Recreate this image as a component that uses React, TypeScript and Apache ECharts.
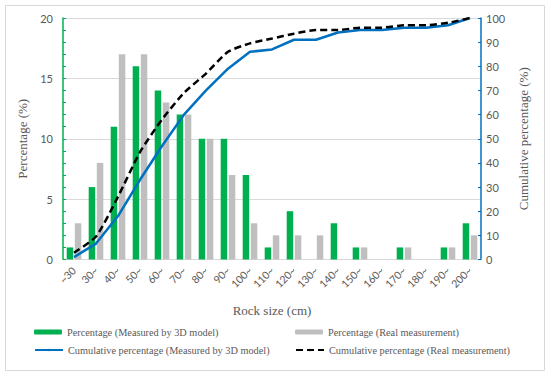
import React, { useEffect, useRef } from "react";
import * as echarts from "echarts";

const categories = ["~30", "30~", "40~", "50~", "60~", "70~", "80~", "90~", "100~", "110~", "120~", "130~", "140~", "150~", "160~", "170~", "180~", "190~", "200~"];
const pct3D = [1, 6, 11, 16, 14, 12, 10, 10, 7, 1, 4, 0, 3, 1, 0, 1, 0, 1, 3];
const pctReal = [3, 8, 17, 17, 13, 12, 10, 7, 3, 2, 2, 2, 0, 1, 0, 1, 0, 1, 2];
const cum3D = [1, 6.6, 18, 33, 47, 60, 70, 79, 86, 87, 91, 91, 94, 95, 95, 96, 96, 97, 100];
const cumReal = [2.8, 9.5, 26, 44.5, 58, 69, 77, 86, 89.5, 91.5, 93.5, 95, 95, 96, 96, 97, 97, 98, 100];
const leftTicks = [0, 5, 10, 15, 20];
const rightTicks = [0, 10, 20, 30, 40, 50, 60, 70, 80, 90, 100];

const NAMES = [
  "Percentage (Measured by 3D model)",
  "Percentage (Real measurement)",
  "Cumulative percentage (Measured by 3D model)",
  "Cumulative percentage (Real measurement)",
];

const SERIF = "'Liberation Serif', 'DejaVu Serif', serif";
const SANS = "Lato, 'Open Sans', sans-serif";
const TXT = "#595959";

export default function App() {
  const ref = useRef<HTMLDivElement>(null);
  useEffect(() => {
    if (!ref.current) return;
    const chart = echarts.init(ref.current, undefined, { renderer: "svg" });
    const legendText = { fontFamily: SERIF, fontSize: 10.3, color: TXT };
    const mkLegend = (name: string, left: number, top: number, isBar: boolean) => ({
      show: true,
      data: [name],
      left,
      top,
      orient: "horizontal",
      itemWidth: 28,
      itemHeight: isBar ? 5 : 3,
      padding: 0,
      selectedMode: false,
      textStyle: legendText,
    });
    chart.setOption({
      animation: false,
      backgroundColor: "#fff",
      graphic: [
        {
          type: "rect",
          shape: { x: 5.5, y: 5.5, width: 539, height: 365 },
          style: { fill: "none", stroke: "#D9D9D9", lineWidth: 1 },
        },
      ],
      legend: [
        mkLegend(NAMES[0], 34, 327, true),
        mkLegend(NAMES[1], 295, 327, true),
        mkLegend(NAMES[2], 34, 345, false),
        mkLegend(NAMES[3], 295, 345, false),
      ],
      grid: { left: 63, right: 69, top: 18, bottom: 116.5, containLabel: false },
      xAxis: {
        type: "category",
        data: categories,
        axisLine: { lineStyle: { color: "#D9D9D9" } },
        axisTick: { show: false },
        axisLabel: { interval: 0, rotate: 45, fontFamily: SANS, fontSize: 10.5, color: TXT, margin: 9 },
        name: "Rock size (cm)",
        nameLocation: "middle",
        nameGap: 44,
        nameTextStyle: { fontFamily: SERIF, fontSize: 13, color: TXT },
      },
      yAxis: [
        {
          type: "value",
          min: leftTicks[0],
          max: leftTicks[leftTicks.length - 1],
          interval: 5,
          axisLine: { show: true, lineStyle: { color: "#00B050", width: 1.5 } },
          axisTick: { show: true, inside: true, length: 3, lineStyle: { color: "#00B050" } },
          minorTick: { show: true, splitNumber: 5, length: 3, lineStyle: { color: "#00B050" } },
          splitLine: { show: true, lineStyle: { color: "#D9D9D9" } },
          axisLabel: { fontFamily: SANS, fontSize: 11, color: TXT, margin: 10 },
          name: "Percentage (%)",
          nameLocation: "middle",
          nameRotate: 90,
          nameGap: 27,
          nameTextStyle: { fontFamily: SERIF, fontSize: 13, color: TXT },
        },
        {
          type: "value",
          min: rightTicks[0],
          max: rightTicks[rightTicks.length - 1],
          interval: 10,
          position: "right",
          axisLine: { show: true, lineStyle: { color: "#0070C0", width: 1.5 } },
          axisTick: { show: true, inside: true, length: 3, lineStyle: { color: "#0070C0" } },
          splitLine: { show: false },
          axisLabel: { fontFamily: SANS, fontSize: 11, color: TXT, margin: 5 },
          name: "Cumulative percentage (%)",
          nameLocation: "middle",
          nameRotate: 90,
          nameGap: 36,
          nameTextStyle: { fontFamily: SERIF, fontSize: 13, color: TXT },
        },
      ],
      series: [
        {
          name: NAMES[0],
          type: "bar",
          data: pct3D,
          yAxisIndex: 0,
          barWidth: 6.5,
          barGap: "25%",
          itemStyle: { color: "#00B050" },
        },
        {
          name: NAMES[1],
          type: "bar",
          data: pctReal,
          yAxisIndex: 0,
          barWidth: 6.5,
          itemStyle: { color: "#BFBFBF" },
        },
        {
          name: NAMES[2],
          type: "line",
          data: cum3D,
          yAxisIndex: 1,
          symbol: "none",
          showSymbol: false,
          lineStyle: { color: "#0070C0", width: 2.5 },
          itemStyle: { color: "#0070C0" },
          z: 3,
        },
        {
          name: NAMES[3],
          type: "line",
          data: cumReal,
          yAxisIndex: 1,
          symbol: "none",
          showSymbol: false,
          smooth: 0.2,
          lineStyle: { color: "#000", width: 2.5, type: [7, 4] },
          itemStyle: { color: "#000" },
          z: 4,
        },
      ],
    });
    return () => chart.dispose();
  }, []);
  return <div ref={ref} style={{ position: "fixed", left: 0, top: 0, width: 550, height: 376 }} />;
}
